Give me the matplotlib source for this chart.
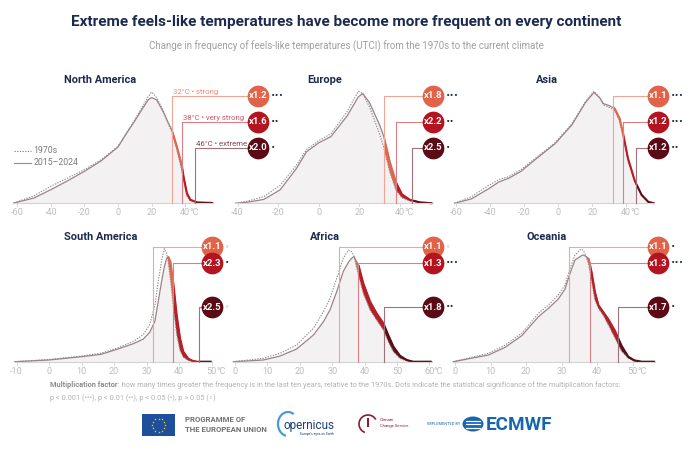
import numpy as np
import matplotlib
matplotlib.use('Agg')
import matplotlib.pyplot as plt
from matplotlib.patches import Rectangle, Arc, Ellipse

plt.rcParams['font.family'] = ['Roboto', 'DejaVu Sans']

# ---- data ----
thresholds = [32, 38, 46]
levels = ['strong', 'very strong', 'extreme']

na_temp = [-62, -50, -40, -30, -20, -10, 0, 5, 10, 15, 18, 20, 23, 27, 30, 32, 35, 38, 39, 41, 43, 47, 56.5]
na_1970s = [0, 0.065, 0.15, 0.225, 0.30, 0.39, 0.51, 0.63, 0.75, 0.88, 0.96, 1.0, 0.95, 0.83, 0.71, 0.64, 0.48, 0.29, 0.2, 0.065, 0.02, 0.003, 0]
na_recent = [0, 0.045, 0.12, 0.2, 0.285, 0.38, 0.505, 0.625, 0.74, 0.86, 0.93, 0.95, 0.93, 0.82, 0.72, 0.66, 0.51, 0.34, 0.24, 0.09, 0.03, 0.005, 0]
na_factor = ['x1.2', 'x1.6', 'x2.0']
na_signif = ['•••', '••', '•']

eu_temp = [-41, -35, -27, -19, -11, -6, 0, 6, 14, 19.5, 21.7, 25, 30, 32, 35, 38, 41, 45, 50, 56]
eu_1970s = [0, 0.02, 0.06, 0.16, 0.34, 0.48, 0.56, 0.62, 0.82, 1.0, 0.98, 0.86, 0.62, 0.5, 0.28, 0.12, 0.05, 0.02, 0.005, 0]
eu_recent = [0, 0.01, 0.035, 0.12, 0.31, 0.46, 0.54, 0.595, 0.78, 0.95, 0.98, 0.9, 0.7, 0.6, 0.37, 0.19, 0.08, 0.03, 0.008, 0]
eu_factor = ['x1.8', 'x2.2', 'x2.5']
eu_signif = ['•••', '••', '•']

as_temp = [-61, -51, -41, -35, -29, -22, -12, -2, 8, 16, 21, 24.5, 26.5, 29.5, 33, 36, 38, 41, 45, 49, 53, 56.5]
as_1970s = [0, 0.06, 0.16, 0.21, 0.24, 0.30, 0.42, 0.54, 0.71, 0.91, 1.0, 0.94, 0.88, 0.86, 0.83, 0.74, 0.6, 0.38, 0.19, 0.07, 0.01, 0]
as_recent = [0, 0.04, 0.13, 0.19, 0.225, 0.285, 0.41, 0.53, 0.70, 0.90, 0.99, 0.94, 0.89, 0.875, 0.85, 0.76, 0.63, 0.40, 0.20, 0.075, 0.012, 0]
as_factor = ['x1.1', 'x1.2', 'x1.2']
as_signif = ['•••', '•••', '••']

sa_temp = [-10.5, 0, 10, 16, 21, 26, 29, 31, 32.6, 33.6, 34.7, 35.5, 36.2, 36.7, 37.4, 38.3, 39.3, 40.3, 41.3, 42.9, 44, 45.5, 50]
sa_1970s = [0, 0.02, 0.05, 0.075, 0.12, 0.18, 0.24, 0.33, 0.50, 0.71, 0.90, 1.0, 0.96, 0.88, 0.72, 0.47, 0.24, 0.10, 0.04, 0.01, 0.003, 0, 0]
sa_recent = [0, 0.015, 0.044, 0.065, 0.11, 0.16, 0.2, 0.26, 0.36, 0.53, 0.72, 0.84, 0.915, 0.93, 0.88, 0.68, 0.41, 0.21, 0.09, 0.025, 0.01, 0, 0]
sa_factor = ['x1.1', 'x2.3', 'x2.5']
sa_signif = ['◦', '•', '◦']

af_temp = [-0.5, 8.7, 13.9, 19, 24.2, 27.3, 29.3, 31.4, 33.4, 35, 36, 36.7, 38.1, 39.6, 41.7, 43.7, 45.8, 47.3, 48.9, 50.9, 53, 55, 60.7]
af_1970s = [0, 0.03, 0.074, 0.147, 0.295, 0.442, 0.56, 0.737, 0.915, 0.988, 0.973, 0.935, 0.767, 0.605, 0.457, 0.369, 0.28, 0.177, 0.088, 0.03, 0.006, 0, 0]
af_recent = [0, 0.015, 0.05, 0.112, 0.236, 0.354, 0.457, 0.62, 0.797, 0.88, 0.915, 0.93, 0.856, 0.693, 0.531, 0.428, 0.339, 0.236, 0.133, 0.053, 0.015, 0, 0]
af_factor = ['x1.1', 'x1.3', 'x1.8']
af_signif = ['◦', '•••', '••']

oc_temp = [-0.5, 9.4, 14.1, 18.8, 23.5, 26.3, 29.1, 31, 32.4, 33.8, 35.5, 36, 36.6, 37.6, 38.5, 39.4, 40.4, 41.8, 43.2, 45.1, 46.9, 48.8, 50.5, 52.6, 56.3]
oc_1970s = [0, 0.074, 0.147, 0.251, 0.428, 0.502, 0.59, 0.679, 0.827, 0.944, 0.997, 0.988, 0.958, 0.871, 0.708, 0.546, 0.472, 0.407, 0.325, 0.206, 0.094, 0.03, 0.003, 0, 0]
oc_recent = [0, 0.059, 0.127, 0.23, 0.398, 0.472, 0.555, 0.643, 0.782, 0.9, 0.935, 0.944, 0.938, 0.915, 0.79, 0.62, 0.5, 0.437, 0.375, 0.271, 0.142, 0.044, 0.012, 0, 0]
oc_factor = ['x1.1', 'x1.3', 'x1.7']
oc_signif = ['•', '•••', '•']

# ---- layout (pixels) ----
W, H = 690, 449
navy = '#1b2a4e'
badge_colors = ['#e0634a', '#b3141f', '#5a0b15']
line_colors = ['#f3a595', '#dc7e86', '#a1707a']
label_colors = ['#ee8a75', '#d4566a', '#8a4450']
band_colors = ['#e2664c', '#b81c24', '#5c0c16']
tick_grey = '#bdbdbd'

row1_by = [96, 122, 148]
row2_by = [247, 263, 307]
panels = [
    dict(name='North America', t=na_temp, y0=na_1970s, y1=na_recent, f=na_factor, s=na_signif,
         zero=118, ppd=1.68, base=203, scale=111, lim=(-62, 56.5), ticks=[-60, -40, -20, 0, 20, 40],
         title=(100, 80), bx=258, by=row1_by),
    dict(name='Europe', t=eu_temp, y0=eu_1970s, y1=eu_recent, f=eu_factor, s=eu_signif,
         zero=318.7, ppd=2.03, base=203.3, scale=112, lim=(-41.2, 56.3), ticks=[-40, -20, 0, 20, 40],
         title=(325, 80), bx=433, by=row1_by),
    dict(name='Asia', t=as_temp, y0=as_1970s, y1=as_recent, f=as_factor, s=as_signif,
         zero=558.3, ppd=1.7, base=203.3, scale=112, lim=(-61, 56.5), ticks=[-60, -40, -20, 0, 20, 40],
         title=(547, 80), bx=658, by=row1_by),
    dict(name='South America', t=sa_temp, y0=sa_1970s, y1=sa_recent, f=sa_factor, s=sa_signif,
         zero=49, ppd=3.25, base=361.7, scale=113, lim=(-10.5, 50), ticks=[-10, 0, 10, 20, 30, 40, 50],
         title=(101, 237), bx=212, by=row2_by),
    dict(name='Africa', t=af_temp, y0=af_1970s, y1=af_recent, f=af_factor, s=af_signif,
         zero=235, ppd=3.24, base=361.7, scale=113, lim=(-0.5, 60.7), ticks=[0, 10, 20, 30, 40, 50, 60],
         title=(325, 237), bx=433, by=row2_by),
    dict(name='Oceania', t=oc_temp, y0=oc_1970s, y1=oc_recent, f=oc_factor, s=oc_signif,
         zero=455, ppd=3.55, base=361.7, scale=113, lim=(-0.5, 56.3), ticks=[0, 10, 20, 30, 40, 50],
         title=(547, 237), bx=658, by=row2_by),
]

fig = plt.figure(figsize=(W / 100, H / 100), dpi=100, facecolor='white')
renderer = fig.canvas.get_renderer()

# background axes in pixel coordinates for texts and logos
bg = fig.add_axes([0, 0, 1, 1], zorder=0)
bg.set_xlim(0, W)
bg.set_ylim(H, 0)
bg.axis('off')


def fit(txt, width):
    w = txt.get_window_extent(renderer).width
    txt.set_fontsize(txt.get_fontsize() * width / w)


title = bg.text(346, 22, 'Extreme feels-like temperatures have become more frequent on every continent',
                ha='center', va='center', fontsize=11, fontweight='bold', color=navy)
fit(title, 548)
sub = bg.text(346, 46, 'Change in frequency of feels-like temperatures (UTCI) from the 1970s to the current climate',
              ha='center', va='center', fontsize=7, color='#a0a0a0')
fit(sub, 397)

ptitle_size = None
for p in panels:
    t = np.array(p['t'])
    y0 = np.array(p['y0'])
    y1 = np.array(p['y1'])
    lo, hi = p['lim']
    zero, ppd, base, scale = p['zero'], p['ppd'], p['base'], p['scale']
    left = zero + ppd * lo
    right = zero + ppd * hi
    ax = fig.add_axes([left / W, 1 - base / H, (right - left) / W, scale / H], zorder=2)
    ax.set_xlim(lo, hi)
    ax.set_ylim(0, 1)
    ax.axis('off')

    # area under the recent curve
    ax.fill_between(t, 0, y1, color='#f3f1f2', lw=0, zorder=1)
    ax.plot(t, y0, color='#8d8d8d', lw=0.8, ls=(0, (1.2, 1.2)), zorder=3, clip_on=False)
    ax.plot(t, y1, color='#9a8286', lw=0.9, zorder=3, clip_on=False)
    # coloured bands where the recent climate is more frequent
    hotter = np.where(y1 >= y0, y1, np.nan)
    edges = [thresholds[0], thresholds[1], thresholds[2], hi + 1]
    for i in range(3):
        rect = Rectangle((edges[i], -0.1), edges[i + 1] - edges[i], 1.5, transform=ax.transData)
        band = ax.fill_between(t, y0, y1, where=y1 >= y0, interpolate=True,
                               color=band_colors[i], lw=0, zorder=2)
        band.set_clip_path(rect)
        edge, = ax.plot(t, hotter, color=band_colors[i], lw=1.5, zorder=4, solid_capstyle='butt')
        edge.set_clip_path(rect)

    # x axis
    ax.plot([lo, hi], [0, 0], color='#d3d3d3', lw=0.8, zorder=4, clip_on=False)
    for k, tk in enumerate(p['ticks']):
        ax.plot([tk, tk], [0, -3 / scale], color='#d3d3d3', lw=0.6, clip_on=False)
        ax.text(tk, -5 / scale, '%d' % tk, ha='center', va='top', fontsize=6.6, color=tick_grey)
        if k == len(p['ticks']) - 1:
            ax.annotate('°C', (tk, -5 / scale), xytext=(3.2, 0), textcoords='offset points',
                        ha='left', va='top', fontsize=6.6, color=tick_grey, annotation_clip=False)

    # thresholds, badges
    bxd = (p['bx'] - zero) / ppd
    for i, T in enumerate(thresholds):
        top = (base - p['by'][i]) / scale
        ax.plot([T, T, bxd], [0, top, top], color=line_colors[i], lw=0.8, zorder=5, clip_on=False)
        ax.scatter([bxd], [top], s=245, color=badge_colors[i], lw=0, zorder=10 + i, clip_on=False)
        ax.text(bxd, top, p['f'][i], ha='center', va='center', color='white', fontsize=6.8,
                fontweight='bold', zorder=10 + i)
        sig = p['s'][i]
        ax.annotate(sig, (bxd, top), xytext=(9.3, 0), textcoords='offset points', ha='left',
                    va='center', fontsize=5.2, family='DejaVu Sans',
                    color='#a4abbb' if sig == '◦' else navy, annotation_clip=False, zorder=15)
        if p['name'] == 'North America':
            ax.annotate('%d°C • %s' % (T, levels[i]), (T, top), xytext=(0.7, 0.9),
                        textcoords='offset points', ha='left', va='bottom', fontsize=5.6,
                        color=label_colors[i], annotation_clip=False, zorder=6)

    if p['name'] == 'North America':
        for yy, ls, lab in [(151, (0, (1.2, 1.2)), '1970s'), (163, '-', '2015–2024')]:
            yd = (base - yy) / scale
            ax.plot([(14 - zero) / ppd, (31 - zero) / ppd], [yd, yd], color='#8d8d8d', lw=0.8,
                    ls=ls, clip_on=False)
            ax.text((33.5 - zero) / ppd, yd, lab, ha='left', va='center', fontsize=6.3,
                    color='#7a7a7a')

    pt = bg.text(p['title'][0], p['title'][1], p['name'], ha='center', va='center',
                 fontweight='bold', color=navy, fontsize=9)
    if ptitle_size is None:
        fit(pt, 72)
        ptitle_size = pt.get_fontsize()
    else:
        pt.set_fontsize(ptitle_size)

# footnote
f1 = bg.text(50, 385, 'Multiplication factor', ha='left', va='center', fontsize=6,
             fontweight='bold', color='#8c8c8c')
f2 = bg.text(0, 385, ': how many times greater the frequency is in the last ten years, relative to the '
             '1970s. Dots indicate the statistical significance of the multiplication factors:',
             ha='left', va='center', fontsize=6, color='#b2b2b2')
w1 = f1.get_window_extent(renderer).width
w2 = f2.get_window_extent(renderer).width
k = 577 / (w1 + w2)
f1.set_fontsize(6 * k)
f2.set_fontsize(6 * k)
f2.set_x(50 + f1.get_window_extent(renderer).width)
bg.text(50, 398, 'p < 0.001 (•••), p < 0.01 (••), p < 0.05 (•), p > 0.05 (◦)', ha='left',
        va='center', fontsize=6 * k, color='#b2b2b2')

# logos
bg.add_patch(Rectangle((142, 414), 33, 22, color='#1f4e9c', lw=0))
ang = np.arange(12) * np.pi / 6
bg.scatter(158.5 + 6.5 * np.cos(ang), 425 + 6.5 * np.sin(ang), marker='*', s=3, color='#ffdd00', lw=0)
bg.text(185, 419, 'PROGRAMME OF', fontsize=5.6, color='#707070', va='center', fontweight='bold')
bg.text(185, 429, 'THE EUROPEAN UNION', fontsize=5.6, color='#707070', va='center', fontweight='bold')

bg.add_patch(Arc((288, 424), 20, 24, theta1=100, theta2=300, color='#4a9ad8', lw=1.6))
bg.text(283, 425, 'opernicus', fontsize=8.5, color='#1d3f73', va='center', ha='left')
bg.text(300, 434, "Europe's eyes on Earth", fontsize=2.4, color='#1d3f73', va='center', ha='left')

bg.add_patch(Arc((368, 424), 18, 18, theta1=110, theta2=330, color='#8c1d2e', lw=1.2))
bg.add_patch(Rectangle((367, 418), 2, 9, color='#8c1d2e', lw=0))
bg.text(380, 420, 'Climate', fontsize=3, color='#8c1d2e', va='center', ha='left')
bg.text(380, 426, 'Change Service', fontsize=3, color='#8c1d2e', va='center', ha='left')

bg.text(427, 424, 'IMPLEMENTED BY', fontsize=2.8, color='#1a5fa8', va='center', ha='left')
bg.add_patch(Ellipse((473, 424), 21, 15, color='#1565b0', lw=0))
for yy in [420.5, 424, 427.5]:
    bg.plot([466, 480], [yy, yy], color='white', lw=0.9)
ec = bg.text(486, 424.5, 'ECMWF', fontsize=13, fontweight='bold', color='#1565b0', va='center',
             ha='left')
fit(ec, 66)

fig.savefig('out.png', dpi=100, facecolor='white')
